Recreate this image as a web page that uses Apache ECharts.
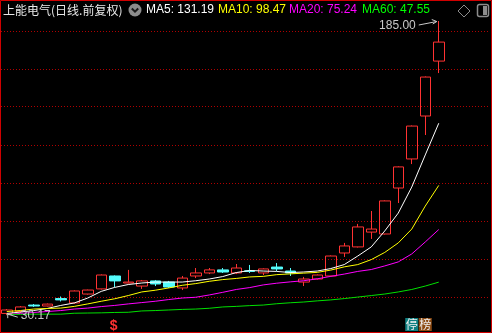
<!DOCTYPE html>
<html><head><meta charset="utf-8">
<script src="https://cdn.jsdelivr.net/npm/echarts@6/dist/echarts.min.js"></script>
<style>html,body{margin:0;padding:0;background:#000;}#c{width:492px;height:333px;}</style>
</head><body><div id="c"></div>
<script>
// ---- data ----
const categories = ['1','2','3','4','5','6','7','8','9','10','11','12','13','14','15','16','17','18','19','20','21','22','23','24','25','26','27','28','29','30','31','32','33','34','35','36'];
const opens  = [31.1,32.1,35.5,35.0,38.9,36.6,41.3,44.0,50.8,47.1,45.5,48.2,47.6,44.5,50.8,52.4,54.0,52.4,53.5,52.4,55.5,53.4,47.6,49.2,50.8,62.9,66.1,73.9,72.9,97.1,112.4,135.0,163.9];
const closes = [32.9,34.5,35.0,36.0,38.2,42.9,43.4,51.3,48.2,47.6,48.2,46.6,45.0,49.7,52.4,54.0,52.9,55.0,53.2,54.5,54.5,52.4,49.2,51.3,61.3,66.6,76.6,75.5,90.3,108.2,129.7,155.5,173.9];
const lows   = [30.17,31.3,34.5,34.8,37.4,36.2,41.0,43.7,45.0,46.9,44.0,45.5,44.5,43.4,49.7,51.8,52.4,51.8,52.4,51.3,53.4,50.8,45.5,48.9,50.5,60.8,65.8,70.3,72.6,89.2,109.7,125.0,157.6];
const highs  = [33.4,35.0,36.05,36.3,40.0,43.2,43.6,51.6,51.1,54.0,48.7,48.7,48.2,50.8,55.0,55.0,55.0,57.1,56.6,54.8,57.6,55.0,50.3,51.6,61.6,68.2,78.2,85.0,90.6,108.5,130.0,155.8,185.0];
const ma5  = [31.1,31.8,32.6,33.7,35.3,36.6,39.2,42.7,44.8,46.3,47.1,47.6,47.6,47.6,48.3,49.2,50.5,52.6,53.7,53.4,53.2,52.6,52.9,53.4,54.7,56.8,61.3,66.1,74.5,83.9,97.6,114.5,131.19];
const ma10 = [32.1,32.6,33.4,33.7,33.9,34.8,36.1,37.5,38.8,40.5,42.4,43.3,44.5,45.9,46.8,48.0,48.9,49.5,50.3,50.6,51.5,51.9,52.3,52.7,53.9,55.6,56.8,59.4,63.2,68.2,75.5,87.6,98.47];
const ma20 = [30.5,31.1,31.6,32.1,32.6,33.4,33.9,34.7,35.3,36.1,36.8,37.5,38.4,39.2,39.6,40.8,42.2,43.7,44.7,46.1,47.0,47.7,48.3,49.3,50.6,51.8,53.2,54.2,56.1,58.2,62.4,68.7,75.24];
const ma60 = [30.6,30.6,30.7,30.7,30.7,31.2,31.3,31.4,31.6,31.7,32.4,32.6,32.9,33.2,33.4,33.8,34.5,34.8,35.2,35.5,36.2,36.7,37.1,37.7,38.2,38.9,39.7,40.5,41.3,42.4,43.7,45.5,47.55];
const gridLevels = [40,60,80,100,120,140,160,180];
const titleText = '上能电气(日线.前复权)';
const legendItems = [
  {name:'MA5',  value:'131.19', color:'#ffffff'},
  {name:'MA10', value:'98.47',  color:'#ffff00'},
  {name:'MA20', value:'75.24',  color:'#ff00ff'},
  {name:'MA60', value:'47.55',  color:'#00ff00'}
];
const maxLabel = '185.00', minLabel = '30.17';
const eventIndex = 8;            // red "$" marker under this candle
const badges = [{text:'停', index:30, bg:'#0e7f80'}, {text:'榜', index:31, bg:'#8c4a12'}];

const kData = opens.map((o,i)=>[o, closes[i], lows[i], highs[i]]);
const chart = echarts.init(document.getElementById('c'));
const lineS = (name, data, color) => ({type:'line', name, data, symbol:'none', smooth:false, z:3,
  lineStyle:{color, width:1}, silent:true});
chart.setOption({
  animation:false,
  backgroundColor:'#000',
  grid:{left:0, top:11.5, width:486, height:313.5},
  xAxis:{type:'category', data:categories, boundaryGap:true, show:false},
  yAxis:{type:'value', min:25, max:190, show:false, splitLine:{show:false}},
  series:[
    {type:'candlestick', data:kData, barWidth:11, z:2,
     itemStyle:{color:'rgba(0,0,0,0)', color0:'#54fcfc', borderColor:'#ff3232', borderColor0:'#54fcfc', borderWidth:1}},
    lineS('MA5', ma5, '#ffffff'),
    lineS('MA10', ma10, '#ffff00'),
    lineS('MA20', ma20, '#ff00ff'),
    lineS('MA60', ma60, '#00e000')
  ]
});

const px = (i, v) => chart.convertToPixel({gridIndex:0}, [i, v]);
const g = [];
// dotted grid lines
gridLevels.forEach(v => {
  const y = Math.round(px(0, v)[1]) + 0.5;
  g.push({type:'line', shape:{x1:1, y1:y, x2:490, y2:y}, style:{stroke:'#b00000', lineWidth:1, lineDash:[1,2]}, silent:true, z:1});
});
// border
g.push({type:'rect', shape:{x:0.5, y:0.5, width:491, height:332}, style:{fill:'none', stroke:'#d00000', lineWidth:1}, z:10});
// header
const font = '12px "Liberation Sans", Arial, sans-serif';
g.push({type:'text', style:{text:titleText, x:3, y:10, fill:'#e8e8e8', font:'12px "Noto Sans CJK SC", sans-serif', textVerticalAlign:'middle'}, z:10});
g.push({type:'circle', shape:{cx:135, cy:10, r:6.5}, style:{fill:'#8c8c8c'}, z:10});
g.push({type:'polyline', shape:{points:[[131.8,8.5],[135,11.7],[138.2,8.5]]}, style:{stroke:'#1a1a1a', lineWidth:2, fill:'none'}, z:11});
const legendX = [146, 218, 289, 362];
legendItems.forEach((it, k) => {
  g.push({type:'text', style:{text:it.name + ': ' + it.value, x:legendX[k], y:10, fill:it.color, font, textVerticalAlign:'middle'}, z:10});
});
g.push({type:'polygon', shape:{points:[[464,5],[470,11],[464,17],[458,11]]}, style:{fill:'none', stroke:'#8c8c8c', lineWidth:1}, z:10});
g.push({type:'rect', shape:{x:477.5, y:4.5, width:11, height:12, r:2}, style:{fill:'none', stroke:'#8c8c8c', lineWidth:1.5}, z:10});
g.push({type:'rect', shape:{x:483, y:6, width:4, height:9}, style:{fill:'#8c8c8c'}, z:10});
// max label
const hi = highs.indexOf(Math.max(...highs));
const hp = px(hi, highs[hi]);
g.push({type:'text', style:{text:maxLabel, x:hp[0]-23, y:hp[1]+5, fill:'#c8c8c8', font, textAlign:'right', textVerticalAlign:'middle'}, z:10});
g.push({type:'line', shape:{x1:hp[0]-20, y1:hp[1]+4, x2:hp[0]-2, y2:hp[1]+0.5}, style:{stroke:'#c8c8c8', lineWidth:1}, z:10});
g.push({type:'polyline', shape:{points:[[hp[0]-7, hp[1]-1.5],[hp[0]-2, hp[1]+0.5],[hp[0]-6, hp[1]+3]]}, style:{stroke:'#c8c8c8', lineWidth:1, fill:'none'}, z:10});
// min label
const lo = lows.indexOf(Math.min(...lows));
const lp = px(lo, lows[lo]);
g.push({type:'text', style:{text:minLabel, x:lp[0]+14, y:lp[1]+1, fill:'#c8c8c8', font, textVerticalAlign:'middle'}, z:10});
g.push({type:'line', shape:{x1:lp[0]+11, y1:lp[1]+2, x2:lp[0]+1, y2:lp[1]-1}, style:{stroke:'#c8c8c8', lineWidth:1}, z:10});
g.push({type:'polyline', shape:{points:[[lp[0]+1, lp[1]+3],[lp[0]+1, lp[1]-1],[lp[0]+5, lp[1]-1]]}, style:{stroke:'#c8c8c8', lineWidth:1, fill:'none'}, z:10});
// event marker
const ep = px(eventIndex, 30);
g.push({type:'text', style:{text:'$', x:ep[0]-1, y:326, fill:'#ff3232', font:'bold 14px "Liberation Sans", Arial, sans-serif', textAlign:'center', textVerticalAlign:'middle'}, z:10});
// badges
badges.forEach(b => {
  const bx = px(b.index, 30)[0];
  g.push({type:'rect', shape:{x:bx-6.5, y:318, width:13, height:13}, style:{fill:b.bg}, z:10});
  g.push({type:'text', style:{text:b.text, x:bx, y:324.5, fill:'#f0f0f0', font:'12px "Noto Sans CJK SC", sans-serif', textAlign:'center', textVerticalAlign:'middle'}, z:11});
});
chart.setOption({graphic:g});
</script>
</body></html>
